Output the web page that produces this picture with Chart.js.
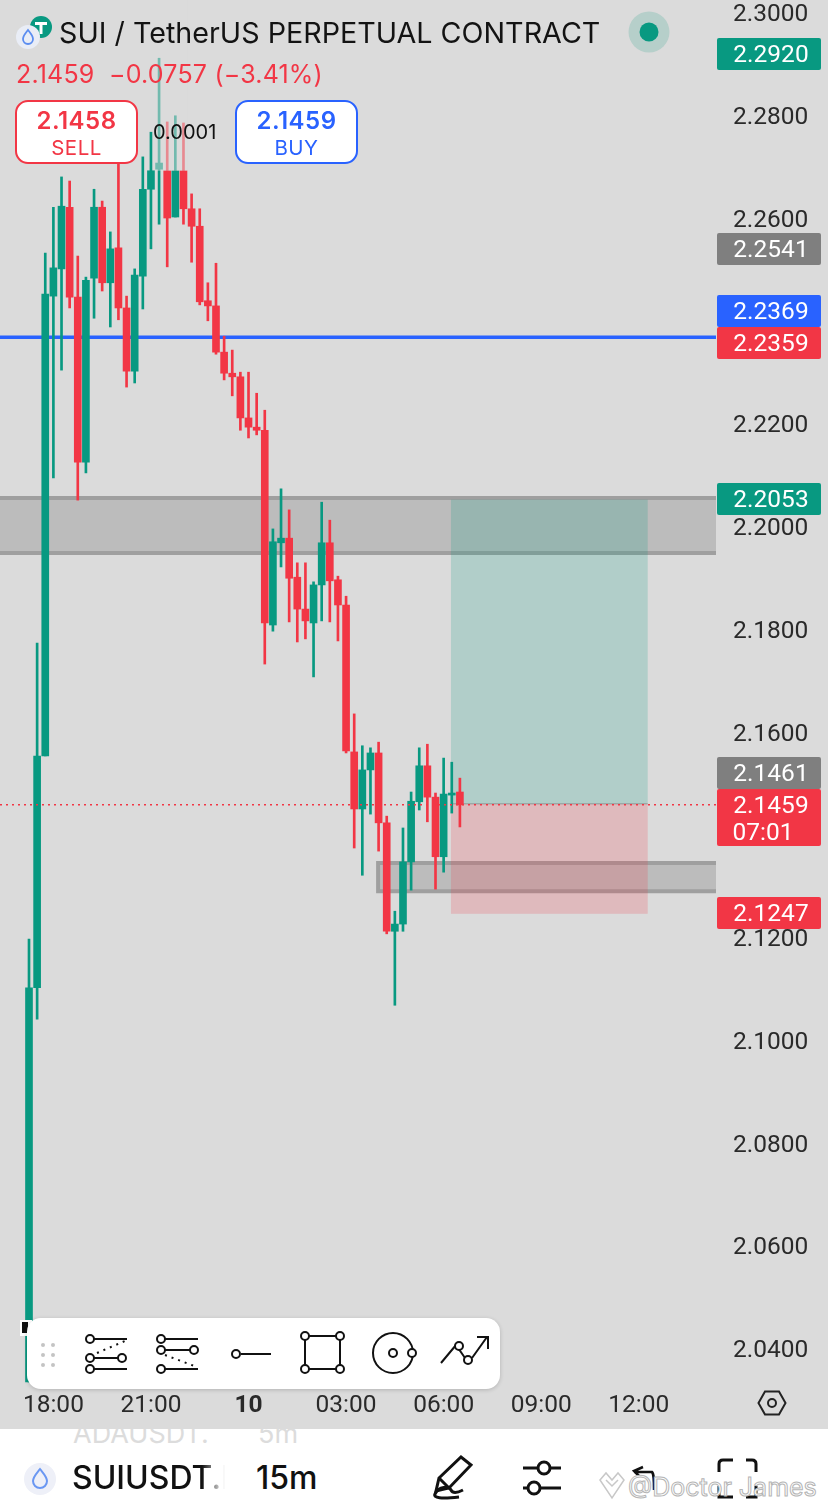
<!DOCTYPE html>
<html>
<head>
<meta charset="utf-8">
<title>SUI / TetherUS</title>
<script src="https://cdn.jsdelivr.net/npm/chart.js@4"></script>
<style>
html, body { margin: 0; padding: 0; background: #fff; font-family: Inter, sans-serif; }
#page { position: relative; width: 828px; height: 1509px; overflow: hidden; background: #fff; }
#chartBox { position: absolute; left: 0; top: 0; width: 828px; height: 1429px; background: #dbdbdb; }
.abs { position: absolute; white-space: nowrap; }
.order { position: absolute; top: 100px; width: 119px; height: 60px; background: #fff; border: 2px solid; border-radius: 13px; text-align: center; }
.order b { position: absolute; left: 0; right: 0; top: 4px; font-size: 24px; line-height: 30px; font-weight: 600; letter-spacing: .5px; }
.order span { position: absolute; left: 0; right: 0; top: 33px; font-size: 20.5px; line-height: 25px; letter-spacing: .5px; }
</style>
</head>
<body>
<div id="page">
  <div id="chartBox"><canvas id="suiChart" width="828" height="1429"></canvas></div>

  <!-- header -->
  <svg class="abs" style="left:14px;top:12px" width="44" height="44">
    <circle cx="27" cy="15" r="11" fill="#089981"/>
    <rect x="21" y="10" width="12" height="3" fill="#fff"/>
    <rect x="25.5" y="10" width="3" height="12" fill="#fff"/>
    <circle cx="14" cy="25" r="12" fill="#e9edf6"/>
    <path d="M14 18 C17 22 19 24 19 27 A5 5 0 0 1 9 27 C9 24 11 22 14 18Z" fill="none" stroke="#5b8df0" stroke-width="1.8"/>
  </svg>
  <div class="abs" style="left:59px;top:14px;font-size:28.7px;line-height:37px;color:#131313">SUI / TetherUS PERPETUAL CONTRACT</div>
  <svg class="abs" style="left:628px;top:11px" width="42" height="42">
    <circle cx="21" cy="21" r="20.5" fill="#b6cfca"/>
    <circle cx="21" cy="21" r="9.5" fill="#089981"/>
  </svg>
  <div class="abs" style="left:16px;top:59px;font-size:25px;line-height:30px;color:#f23645;letter-spacing:.2px">2.1459&nbsp; −0.0757 (−3.41%)</div>
  <div class="order" style="left:15px;border-color:#f23645;color:#f23645"><b>2.1458</b><span>SELL</span></div>
  <div class="order" style="left:235px;border-color:#2962ff;color:#2962ff"><b>2.1459</b><span>BUY</span></div>
  <div class="abs" style="left:153px;top:121px;font-size:20px;line-height:23px;color:#111">0.0001</div>

  <!-- drawing toolbar -->
  <div class="abs" style="left:20px;top:1320px;width:12px;height:16px;background:#fff"></div>
  <div class="abs" style="left:22px;top:1322px;width:6px;height:11px;background:#111"></div>
  <div class="abs" style="left:27px;top:1318px;width:473px;height:71px;background:#fff;border-radius:14px;box-shadow:0 1px 4px rgba(0,0,0,.18)"></div>
  <svg class="abs" style="left:27px;top:1318px" width="473" height="71" fill="none" stroke="#111" stroke-width="2">
    <g fill="#c4c4c4" stroke="none">
      <circle cx="16" cy="27" r="2"/><circle cx="26" cy="27" r="2"/>
      <circle cx="16" cy="37" r="2"/><circle cx="26" cy="37" r="2"/>
      <circle cx="16" cy="47" r="2"/><circle cx="26" cy="47" r="2"/>
    </g>
    <path d="M67 21H100M67 40H91M67 51H100"/>
    <path d="M70 35L98 23" stroke-dasharray="2 5"/>
    <circle cx="63" cy="21" r="4"/><circle cx="63" cy="40" r="4"/><circle cx="63" cy="51" r="4"/><circle cx="95" cy="40" r="4"/>
    <path d="M138 21H171M138 32H163M138 51H171"/>
    <path d="M138 37L170 49" stroke-dasharray="2 5"/>
    <circle cx="134" cy="21" r="4"/><circle cx="134" cy="32" r="4"/><circle cx="134" cy="51" r="4"/><circle cx="167" cy="32" r="4"/>
    <path d="M214 36H244"/><circle cx="209" cy="36" r="4"/>
    <path d="M282 18H310M282 51H310M278 22V47M313 22V47"/>
    <circle cx="278" cy="18" r="4"/><circle cx="313" cy="18" r="4"/><circle cx="278" cy="51" r="4"/><circle cx="313" cy="51" r="4"/>
    <circle cx="366" cy="35" r="20"/><circle cx="366" cy="35" r="4"/><circle cx="385" cy="35" r="4" fill="#fff"/>
    <path d="M414 45L429 27L438 40M445 40L460 19M450 19H461V31"/>
    <circle cx="432" cy="28" r="4" fill="#fff"/><circle cx="441" cy="42" r="4" fill="#fff"/>
  </svg>
  <svg class="abs" style="left:757px;top:1388px" width="30" height="30" fill="none" stroke="#222" stroke-width="2">
    <path d="M8 3.5H22L28.5 15L22 26.5H8L1.5 15Z"/><circle cx="15" cy="15" r="4"/>
  </svg>

  <!-- bottom bar -->
  <div class="abs" style="left:73px;top:1419px;font-size:27px;line-height:30px;color:#dcdcdc;clip-path:inset(10px 0 0 0)">ADAUSDT.</div>
  <div class="abs" style="left:258px;top:1419px;font-size:27px;line-height:30px;color:#dcdcdc;clip-path:inset(10px 0 0 0)">5m</div>
  <svg class="abs" style="left:22px;top:1461px" width="36" height="36">
    <circle cx="18" cy="18" r="16" fill="#eef0f8"/>
    <path d="M18 8 C22 13 25 16 25 20 A7 7 0 0 1 11 20 C11 16 14 13 18 8Z" fill="none" stroke="#6a97f2" stroke-width="2"/>
  </svg>
  <div class="abs" style="left:72px;top:1458px;width:153px;overflow:hidden;font-size:32px;line-height:40px;font-weight:500;color:#111;-webkit-mask-image:linear-gradient(to right,#000 85%,transparent)">SUIUSDT.P</div>
  <div class="abs" style="left:256px;top:1458px;font-size:32px;line-height:40px;font-weight:500;color:#111">15m</div>
  <svg class="abs" style="left:425px;top:1450px" width="340" height="59" fill="none" stroke="#111" stroke-width="3">
    <path d="M14 28L36 7L46 15L24 38L11 41Z"/><path d="M14 28L24 38"/>
    <path d="M10 44C14 36 24 36 26 40C28 44 34 42 38 40M10 44C8 48 16 49 34 47"/>
    <path d="M98 18H112M126 18H136M98 38H102M116 38H136"/><circle cx="119" cy="18" r="6"/><circle cx="109" cy="38" r="6"/>
    <path d="M214 26L209 21L218 17M209 22H227C229 24 229 30 229 40" stroke-width="2.5"/>
    <path d="M294 22V14Q294 10 298 10H308M321 10H327Q331 10 331 14V22M294 36V47H308M331 36V47H321" stroke-width="3"/>
  </svg>
  <svg class="abs" style="left:598px;top:1470px" width="30" height="32" fill="none" stroke="#c8c8c8" stroke-width="1.5">
    <path d="M2 10L8 3L14 10L20 3L26 10L14 28Z"/><path d="M8 10L14 16L20 10"/>
  </svg>
  <div class="abs" style="left:628px;top:1472px;font-size:25px;line-height:30px;color:#fff;-webkit-text-stroke:1px #b5b5b5">@Doctor James</div>
</div>

<script>
// candles, 15m
var opens = [2.0336, 2.1103, 2.1554, 2.2449, 2.2502, 2.2622, 2.2447, 2.2126, 2.2484, 2.2622,
    2.2475, 2.2543, 2.2426, 2.2303, 2.2488, 2.2657, 2.2696, 2.2693, 2.2603, 2.2693,
    2.2619, 2.2585, 2.2440, 2.2430, 2.2340, 2.2299, 2.2292, 2.2212, 2.2194, 2.2188,
    2.1809, 2.1969, 2.1978, 2.1902, 2.1840, 2.1813, 2.1887, 2.1969, 2.1897, 2.1848,
    2.1562, 2.1451, 2.1527, 2.1560, 2.1424, 2.1213, 2.1227, 2.1348, 2.1465, 2.1535,
    2.1474, 2.1358, 2.1478, 2.1484];
var highs = [2.1198, 2.1774, 2.2533, 2.2622, 2.2681, 2.2673, 2.2527, 2.2486, 2.2657, 2.2634,
    2.2574, 2.2708, 2.2449, 2.2502, 2.2720, 2.2768, 2.2912, 2.2788, 2.2800, 2.2786,
    2.2648, 2.2619, 2.2475, 2.2513, 2.2371, 2.2344, 2.2301, 2.2301, 2.2260, 2.2227,
    2.1996, 2.2074, 2.2033, 2.1930, 2.1930, 2.1893, 2.2048, 2.2013, 2.1904, 2.1865,
    2.1636, 2.1574, 2.1570, 2.1581, 2.1437, 2.1252, 2.1414, 2.1484, 2.1570, 2.1577,
    2.1482, 2.1550, 2.1542, 2.1511];
var lows = [2.0336, 2.1042, 2.1554, 2.2095, 2.2305, 2.2426, 2.2052, 2.2105, 2.2406, 2.2459,
    2.2389, 2.2403, 2.2272, 2.2280, 2.2424, 2.2541, 2.2589, 2.2506, 2.2603, 2.2589,
    2.2515, 2.2432, 2.2401, 2.2336, 2.2286, 2.2255, 2.2188, 2.2173, 2.2179, 2.1733,
    2.1797, 2.1922, 2.1815, 2.1776, 2.1782, 2.1708, 2.1817, 2.1815, 2.1778, 2.1560,
    2.1375, 2.1322, 2.1441, 2.1369, 2.1208, 2.1069, 2.1213, 2.1293, 2.1449, 2.1426,
    2.1295, 2.1328, 2.1443, 2.1416];
var closes = [2.1103, 2.1554, 2.2453, 2.2504, 2.2624, 2.2447, 2.2126, 2.2480, 2.2622, 2.2475,
    2.2541, 2.2426, 2.2303, 2.2490, 2.2657, 2.2693, 2.2708, 2.2601, 2.2693, 2.2619,
    2.2585, 2.2438, 2.2430, 2.2340, 2.2299, 2.2292, 2.2212, 2.2194, 2.2188, 2.1813,
    2.1971, 2.1978, 2.1900, 2.1840, 2.1817, 2.1887, 2.1969, 2.1895, 2.1848, 2.1564,
    2.1451, 2.1527, 2.1560, 2.1424, 2.1213, 2.1227, 2.1348, 2.1466, 2.1535, 2.1474,
    2.1358, 2.1480, 2.1482, 2.1459];

var priceTicks = [2.04, 2.06, 2.08, 2.10, 2.12, 2.14, 2.16, 2.18, 2.20, 2.22, 2.24, 2.26, 2.28, 2.30];
var timeTickIndex = [3, 15, 27, 39, 51, 63, 75];
var timeTickLabels = ["18:00", "21:00", "10", "03:00", "06:00", "09:00", "12:00"];

// levels and zones
var bluePrice = 2.2369;
var lastPrice = 2.1459;
var zoneUpper = [2.2056, 2.1949];
var zoneLower = [2.1346, 2.1291];
var zoneLowerStart = 42.94;
var entryPrice = 2.1461;
var targetPrice = 2.2053;
var stopPrice = 2.1247;
var positionFrom = 51.9;
var positionTo = 76.1;

// price tags on the right
var tagValues = [2.2920, 2.2541, 2.2369, 2.2359, 2.2053, 2.1461, 2.1459, 2.1247];
var tagColors = ["#089981", "#7f7f7f", "#2962ff", "#f23645", "#089981", "#7f7f7f", "#f23645", "#f23645"];
var tagCentres = [54, 249, 311, 343, 499, 773, 805, 913];

var GREEN = "#089981";
var RED = "#f23645";

var candleColors = closes.map(function (c, i) { return c >= opens[i] ? GREEN : RED; });
var wicks = highs.map(function (h, i) { return { x: i, y: [lows[i], h] }; });
var bodies = opens.map(function (o, i) { return { x: i, y: [o, closes[i]] }; });

var drawingsPlugin = {
    id: "drawings",
    beforeDraw: function (chart) {
        // price labels sit 2px lower than the tick position
        var ys = chart.scales.y;
        var drawLabels = ys.drawLabels;
        ys.drawLabels = function (area) {
            chart.ctx.save();
            chart.ctx.translate(0, 2);
            drawLabels.call(ys, area);
            chart.ctx.restore();
        };
    },
    beforeDatasetsDraw: function (chart) {
        var c = chart.ctx, area = chart.chartArea, xs = chart.scales.x, ys = chart.scales.y;
        c.save();
        // gray zones
        function zone(left, top, right, bottom) {
            c.fillStyle = "#bcbcbc";
            c.fillRect(left, top, right - left, bottom - top);
            c.strokeStyle = "#9f9f9f";
            c.lineWidth = 4;
        }
        var t = ys.getPixelForValue(zoneUpper[0]), b = ys.getPixelForValue(zoneUpper[1]);
        zone(area.left, t, area.right, b);
        c.beginPath();
        c.moveTo(area.left, t); c.lineTo(area.right, t);
        c.moveTo(area.left, b); c.lineTo(area.right, b);
        c.stroke();
        var l = xs.getPixelForValue(zoneLowerStart);
        t = ys.getPixelForValue(zoneLower[0]); b = ys.getPixelForValue(zoneLower[1]);
        zone(l, t, area.right, b);
        c.beginPath();
        c.moveTo(area.right, t); c.lineTo(l, t); c.lineTo(l, b); c.lineTo(area.right, b);
        c.stroke();
        // long position
        var px1 = xs.getPixelForValue(positionFrom), px2 = xs.getPixelForValue(positionTo);
        var yTarget = ys.getPixelForValue(targetPrice), yEntry = ys.getPixelForValue(entryPrice), yStop = ys.getPixelForValue(stopPrice);
        c.fillStyle = "rgba(8,153,129,0.2)";
        c.fillRect(px1, yTarget, px2 - px1, yEntry - yTarget);
        c.fillStyle = "rgba(242,54,69,0.2)";
        c.fillRect(px1, yEntry, px2 - px1, yStop - yEntry);
        c.strokeStyle = "#8f9a98";
        c.lineWidth = 1;
        c.beginPath();
        c.moveTo(px1, yEntry); c.lineTo(px2, yEntry);
        c.stroke();
        // blue line
        c.strokeStyle = "#2962ff";
        c.lineWidth = 3.5;
        c.beginPath();
        c.moveTo(area.left, ys.getPixelForValue(bluePrice));
        c.lineTo(area.right, ys.getPixelForValue(bluePrice));
        c.stroke();
        c.restore();
    },
    afterDatasetsDraw: function (chart) {
        var c = chart.ctx, area = chart.chartArea, xs = chart.scales.x, ys = chart.scales.y;
        c.save();
        // wicks under the header are faded
        c.fillStyle = "rgba(219,219,219,0.5)";
        c.fillRect(xs.getPixelForValue(15.5), 0, xs.getPixelForValue(19.5) - xs.getPixelForValue(15.5), ys.getPixelForValue(2.2693));
        // last price dotted line
        var y = ys.getPixelForValue(lastPrice);
        c.strokeStyle = RED;
        c.lineWidth = 1.5;
        c.setLineDash([2, 4]);
        c.beginPath();
        c.moveTo(area.left, y); c.lineTo(area.right, y);
        c.stroke();
        c.setLineDash([]);
        // price tags
        c.font = "24.5px Roboto";
        c.textAlign = "center";
        c.textBaseline = "middle";
        tagValues.forEach(function (v, i) {
            var isLast = v === lastPrice;
            var top = tagCentres[i] - 16;
            var h = isLast ? 57 : 32;
            c.fillStyle = tagColors[i];
            c.beginPath();
            c.roundRect(717, top, 104, h, 2);
            c.fill();
            c.fillStyle = "#fff";
            c.fillText(v.toFixed(4), 771, tagCentres[i] + 2);
            if (isLast) {
                c.fillText("07:01", 763, tagCentres[i] + 29);
            }
        });
        c.restore();
    }
};

var ctx = document.getElementById("suiChart").getContext("2d");
var suiChart = new Chart(ctx, {
    type: "bar",
    data: {
        datasets: [{
            data: wicks,
            backgroundColor: candleColors,
            barThickness: 2,
            grouped: false,
            order: 2
        }, {
            data: bodies,
            backgroundColor: candleColors,
            barThickness: 7,
            grouped: false,
            order: 1
        }]
    },
    plugins: [drawingsPlugin],
    options: {
        responsive: false,
        animation: false,
        layout: { padding: 0 },
        plugins: { legend: { display: false }, tooltip: { enabled: false } },
        scales: {
            x: {
                type: "linear",
                offset: false,
                min: -3.567,
                max: 84.5,
                grid: { display: false, drawTicks: false, offset: false },
                border: { display: false },
                afterFit: function (axis) {
                    axis.height = 44;
                    axis.paddingLeft = 0;
                    axis.paddingRight = 0;
                },
                afterBuildTicks: function (axis) {
                    axis.ticks = timeTickIndex.map(function (v) { return { value: v }; });
                },
                ticks: {
                    autoSkip: false,
                    maxRotation: 0,
                    padding: 6,
                    color: "#2a2a2a",
                    font: function (context) {
                        var bold = context.tick && context.tick.value === 27;
                        return { family: "Roboto", size: 24.5, weight: bold ? "700" : "400" };
                    },
                    callback: function (value) {
                        return timeTickLabels[timeTickIndex.indexOf(value)];
                    }
                }
            },
            y: {
                position: "right",
                min: 2.0330,
                max: 2.30253,
                grid: { display: false, drawTicks: false },
                border: { display: false },
                afterFit: function (axis) {
                    axis.width = 112;
                    axis.paddingTop = 0;
                    axis.paddingBottom = 0;
                },
                afterBuildTicks: function (axis) {
                    axis.ticks = priceTicks.map(function (v) { return { value: v }; });
                },
                ticks: {
                    autoSkip: false,
                    padding: 17,
                    color: "#2a2a2a",
                    font: { family: "Roboto", size: 24.5 },
                    callback: function (value) { return value.toFixed(4); }
                }
            }
        }
    }
});
</script>
</body>
</html>
